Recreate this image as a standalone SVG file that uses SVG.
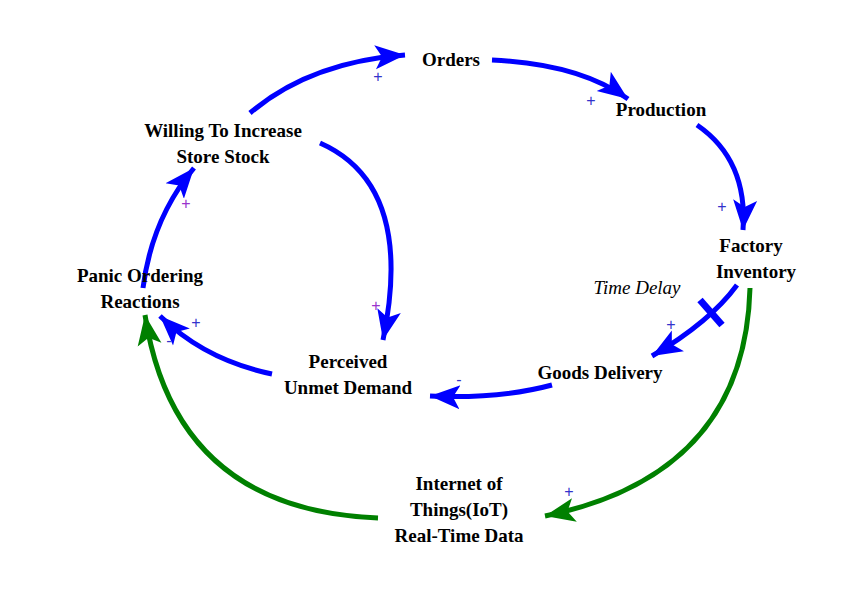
<svg xmlns="http://www.w3.org/2000/svg" width="866" height="591" viewBox="0 0 866 591">
<style>
.n{font-family:"Liberation Serif",serif;font-weight:bold;font-size:19px;fill:#000;text-anchor:middle}
.b{fill:none;stroke:#0000ff;stroke-width:5}
.g{fill:none;stroke:#008000;stroke-width:5}
.p{font-family:"Liberation Sans",sans-serif;font-size:16px;text-anchor:middle}
</style>
<defs>
<marker id="ab" markerUnits="userSpaceOnUse" markerWidth="34" markerHeight="26" refX="30" refY="13" orient="auto"><path d="M0,1 L30,13 L0,25 L7,13 Z" fill="#0000ff"/></marker>
<marker id="ag" markerUnits="userSpaceOnUse" markerWidth="34" markerHeight="26" refX="30" refY="13" orient="auto"><path d="M0,1 L30,13 L0,25 L7,13 Z" fill="#008000"/></marker>
</defs>
<rect width="866" height="591" fill="#fff"/>
<g id="connectors">
<path class="b" d="M250,113 Q310,62 405,55" marker-end="url(#ab)"/>
<path class="b" d="M492,60 Q580,64 628,99" marker-end="url(#ab)"/>
<path class="b" d="M697,125 Q748,160 743,230" marker-end="url(#ab)"/>
<path class="b" d="M737,285 Q710,322 652,356" marker-end="url(#ab)"/>
<path d="M700,300 L722,325" stroke="#0000ff" stroke-width="7"/>
<path class="b" d="M552,385 Q500,399 430,396" marker-end="url(#ab)"/>
<path class="b" d="M272,374 Q205,360 160,316" marker-end="url(#ab)"/>
<path class="b" d="M143,288 Q152,218 194,168" marker-end="url(#ab)"/>
<path class="b" d="M320,143 Q415,185 383,340" marker-end="url(#ab)"/>
<path class="g" d="M750,288 Q745,475 545,516" marker-end="url(#ag)"/>
<path class="g" d="M378,518 Q175,510 145,315" marker-end="url(#ag)"/>
<text class="p" x="378" y="82" fill="#3333cc">+</text>
<text class="p" x="591" y="106" fill="#3333cc">+</text>
<text class="p" x="722" y="212" fill="#3333cc">+</text>
<text class="p" x="671" y="330" fill="#3333cc">+</text>
<text class="p" x="376" y="311" fill="#9933cc">+</text>
<text class="p" x="196" y="328" fill="#3333cc">+</text>
<text class="p" x="186" y="209" fill="#9933cc">+</text>
<text class="p" x="569" y="497" fill="#3333cc">+</text>
<text class="p" x="459" y="385" fill="#3333cc">-</text>
<text class="p" x="169" y="346" fill="#3333cc">-</text>
</g>
<g id="orders"><text class="n" x="451" y="66">Orders</text></g>
<g id="production"><text class="n" x="661" y="116">Production</text></g>
<g id="factory"><text class="n" x="751" y="252">Factory</text><text class="n" x="756" y="278">Inventory</text></g>
<g id="delay"><text x="637" y="294" style="font-family:'Liberation Serif',serif;font-style:italic;font-size:19px;text-anchor:middle">Time Delay</text></g>
<g id="goods"><text class="n" x="600" y="379">Goods Delivery</text></g>
<g id="perceived"><text class="n" x="348" y="368">Perceived</text><text class="n" x="348" y="394">Unmet Demand</text></g>
<g id="panic"><text class="n" x="140" y="282">Panic Ordering</text><text class="n" x="140" y="308">Reactions</text></g>
<g id="willing"><text class="n" x="223" y="137">Willing To Increase</text><text class="n" x="223" y="163">Store Stock</text></g>
<g id="iot"><text class="n" x="459" y="490">Internet of</text><text class="n" x="459" y="516">Things(IoT)</text><text class="n" x="459" y="542">Real-Time Data</text></g>
</svg>
